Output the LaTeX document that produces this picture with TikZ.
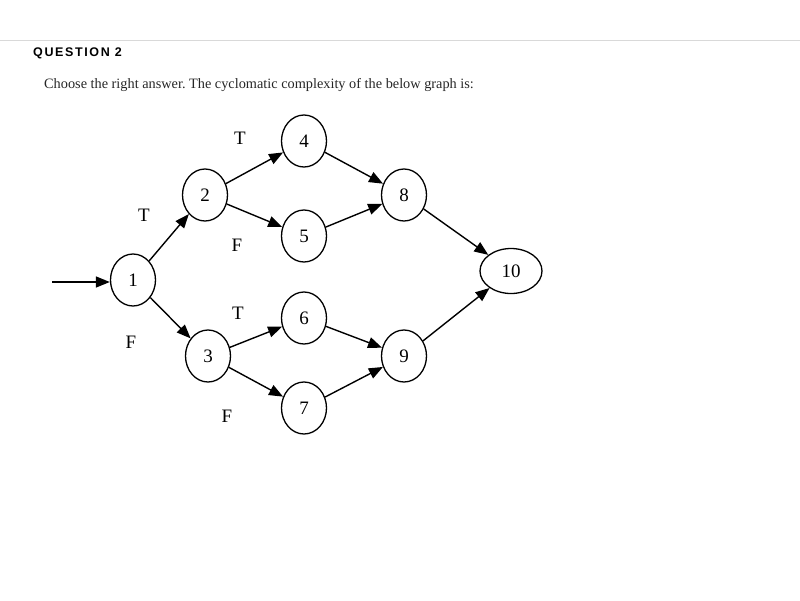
\documentclass[tikz,border=0pt]{standalone}
\usepackage{fontspec}
\setmainfont{Liberation Serif}
\newfontfamily\headfont[LetterSpace=13]{Liberation Sans}
\usetikzlibrary{positioning,shapes.geometric,arrows.meta}
\frenchspacing

\tikzset{
  vertex/.style={draw, ellipse, line width=1.3pt, minimum width=45pt,
    minimum height=52pt, inner sep=0pt, font=\fontsize{19}{19}\selectfont},
  flow/.style={-{Triangle[length=14pt,width=11pt]}, line width=1.4pt},
  branch/.style={inner sep=0pt, font=\fontsize{19}{19}\selectfont}
}

\begin{document}
\begin{tikzpicture}[x=1pt,y=-1pt]
    \useasboundingbox (0,0) rectangle (800,600);
    \draw[gray!30, line width=1.2pt] (0,40.5) -- (800,40.5);
    \node[anchor=west, inner sep=0pt, font=\headfont\bfseries\fontsize{12.5}{13}\selectfont] (title) at (33,53.5) {QUESTION 2};
    \node[anchor=west, inner sep=0pt, text=black!85, font=\fontsize{14.3}{15}\selectfont] (question) at (44,85) {Choose the right answer. The cyclomatic complexity of the below graph is:};

    \node[vertex] (n1) at (133,280) {1};
    \node[vertex] (n2) at (205,195) {2};
    \node[vertex] (n3) at (208,356) {3};
    \node[vertex] (n4) at (304,141) {4};
    \node[vertex] (n5) at (304,236) {5};
    \node[vertex] (n6) at (304,318) {6};
    \node[vertex] (n7) at (304,408) {7};
    \node[vertex] (n8) at (404,195) {8};
    \node[vertex] (n9) at (404,356) {9};
    \node[vertex, minimum width=62pt, minimum height=45pt] (n10) at (511,271) {10};
    \coordinate (entry) at (52,282);

    \node[branch] (t12) at (144,215) {T};
    \node[branch] (f13) at (131,342) {F};
    \node[branch] (t24) at (240,138) {T};
    \node[branch] (f25) at (237,245) {F};
    \node[branch] (t36) at (238,313) {T};
    \node[branch] (f37) at (227,416) {F};

    \draw[flow] (entry) -- (entry -| n1.west);
    \draw[flow] (n1) -- (n2);
    \draw[flow] (n1) -- (n3);
    \draw[flow] (n2) -- (n4);
    \draw[flow] (n2) -- (n5);
    \draw[flow] (n3) -- (n6);
    \draw[flow] (n3) -- (n7);
    \draw[flow] (n4) -- (n8);
    \draw[flow] (n5) -- (n8);
    \draw[flow] (n6) -- (n9);
    \draw[flow] (n7) -- (n9);
    \draw[flow] (n8) -- (n10);
    \draw[flow] (n9) -- (n10);
\end{tikzpicture}
\end{document}
